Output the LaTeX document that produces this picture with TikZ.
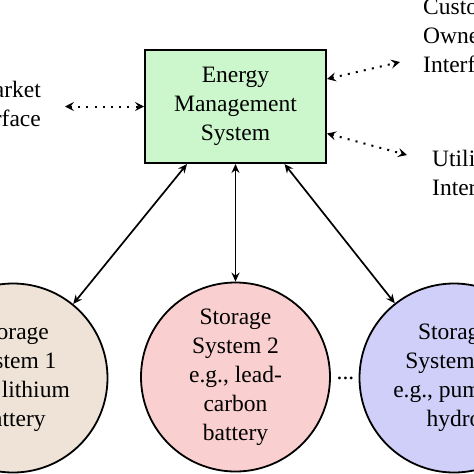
\documentclass[tikz,border=0pt]{standalone}
\usepackage{fontspec}
\setmainfont{Liberation Serif}
\usetikzlibrary{arrows.meta,calc}
\definecolor{emsgreen}{HTML}{CCF7CC}
\definecolor{beige}{HTML}{EEE3D6}
\definecolor{pinkfill}{HTML}{F9CFCF}
\definecolor{bluefill}{HTML}{CFCFF9}
\tikzset{
  emsbox/.style={draw, line width=2pt, fill=emsgreen, minimum width=181pt, minimum height=113pt, inner sep=0pt, align=center},
  store/.style={draw, circle, line width=1.8pt, minimum size=189pt, inner sep=0pt, align=center},
  txt/.style={inner sep=0pt},
  biarrow/.style={line width=1.7pt, {Stealth[length=9pt,width=8pt,inset=3pt]}-{Stealth[length=9pt,width=8pt,inset=3pt]}},
  dotarrow/.style={line width=2pt, dash pattern=on 2pt off 6.2pt, {Stealth[length=9pt,width=9pt,inset=3.5pt]}-{Stealth[length=9pt,width=9pt,inset=3.5pt]}}
}
\begin{document}
\begin{tikzpicture}[x=1pt,y=-1pt,font=\fontsize{23.5}{29}\selectfont]
\useasboundingbox (0,0) rectangle (474,474);
\clip (0,0) rectangle (474,474);
\node[emsbox] (ems) at (235.5,106.5) {Energy\\Management\\System};
\node[store, fill=beige] (s1) at (13,378) {Storage\\System 1\\e.g., lithium\\battery};
\node[store, fill=pinkfill] (s2) at (235.5,377) {Storage\\System 2\\e.g., lead-\\carbon\\battery};
\node[store, fill=bluefill] (s3) at (454,378) {Storage\\System $N$\\e.g., pumped\\hydro};
\node[anchor=base, inner sep=0pt] (dots) at (345.5,379) {...};
\node[txt, align=right, anchor=east] (market) at (41,104) {Market\\Interface};
\node[txt, align=left, anchor=west] (cust) at (423,36) {Customer\\Owner\\Interface};
\node[txt, align=left, anchor=west] (util) at (432,173) {Utility\\Interface};
\coordinate (cuEnd) at (400,62);
\coordinate (utEnd) at (407,155);
\draw[biarrow] ($(ems.south)+(-48.5,0)$) -- (s1);
\draw[biarrow] (ems.south) -- (s2);
\draw[biarrow] ($(ems.south)+(49,0)$) -- (s3);
\draw[dotarrow, shorten <=24pt] (market.east |- ems.west) -- (ems.west);
\draw[dotarrow] ($(ems.east)+(0,-27.5)$) -- (cuEnd);
\draw[dotarrow] ($(ems.east)+(0,27)$) -- (utEnd);
\end{tikzpicture}
\end{document}
